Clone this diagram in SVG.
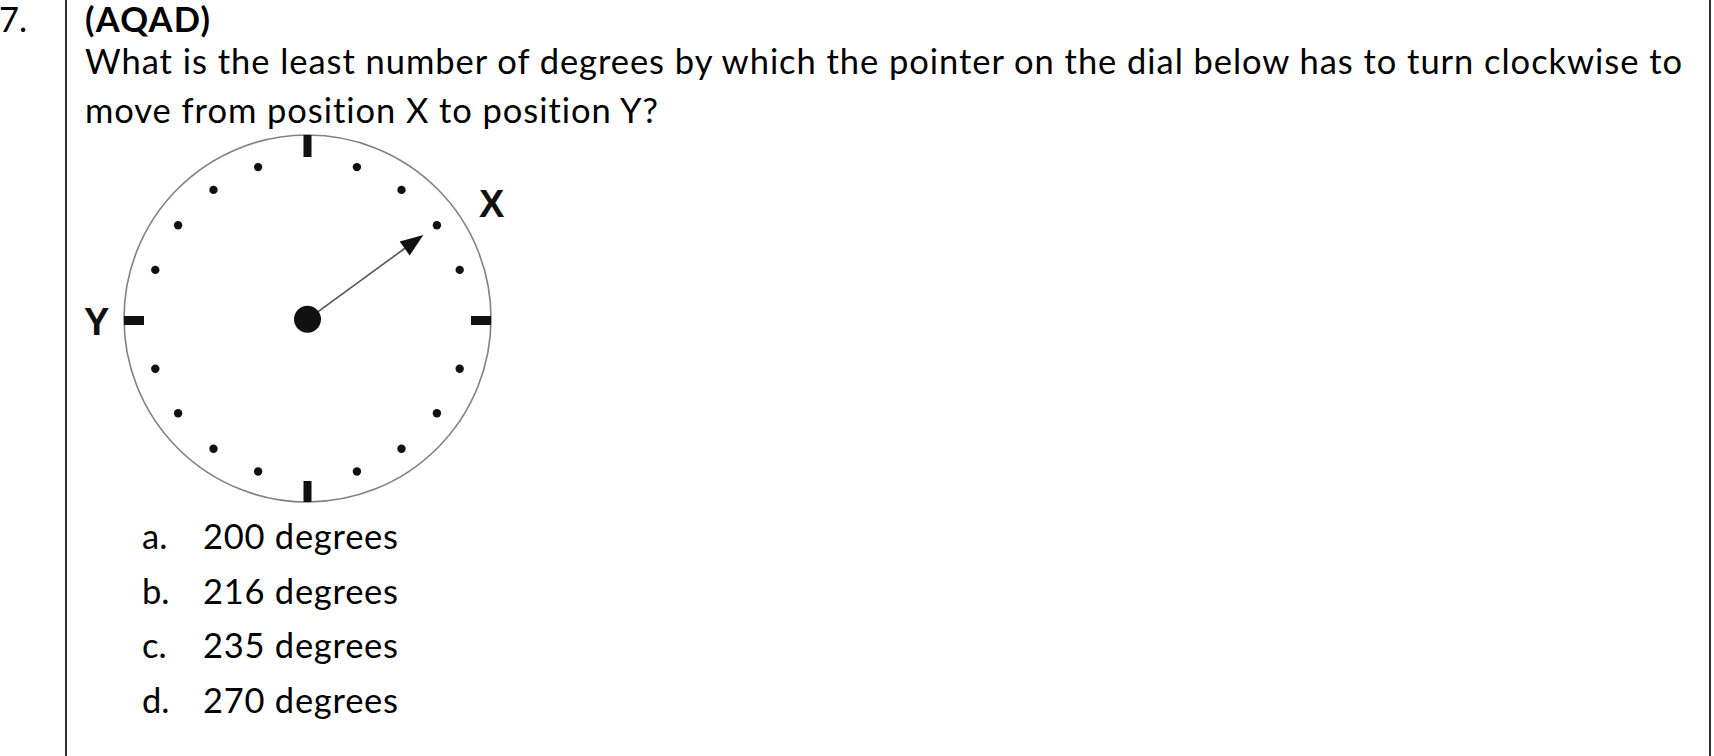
<svg xmlns="http://www.w3.org/2000/svg" width="1714" height="756" viewBox="0 0 1714 756">
<style>
.t{font-family:Lato,"Open Sans","Liberation Sans",sans-serif;font-size:34.5px;fill:#000;font-variant-ligatures:none}
.b{font-weight:bold}
.lab{font-family:"Liberation Sans",Arial,sans-serif;font-weight:bold;font-size:38px;fill:#111}
.dot{fill:#111}
.tick{fill:#111}
.border{stroke:#333;stroke-width:2;fill:none}
</style>
<rect width="1714" height="756" fill="#fff"/>
<g id="table">
<line class="border" x1="66" y1="0" x2="66" y2="756"/>
<line class="border" x1="1710" y1="0" x2="1710" y2="756"/>
</g>
<g id="question">
<text class="t" x="-1" y="32">7.</text>
<text class="t b" x="85" y="32" textLength="125">(AQAD)</text>
<text class="t" x="85" y="74" textLength="1597">What is the least number of degrees by which the pointer on the dial below has to turn clockwise to</text>
<text class="t" x="85" y="123" textLength="573">move from position X to position Y?</text>
</g>
<g id="dial">
<circle cx="307.5" cy="318.5" r="183.5" fill="#fff" stroke="#808080" stroke-width="1.6"/>
<rect class="tick" x="303.5" y="135" width="8" height="22"/>
<rect class="tick" x="303.5" y="481" width="8" height="21"/>
<rect class="tick" x="124" y="316" width="20" height="9"/>
<rect class="tick" x="471" y="316" width="20" height="9"/>
<g id="dots">
<circle class="dot" cx="356.9" cy="167.1" r="4.2"/>
<circle class="dot" cx="258.1" cy="167.1" r="4.2"/>
<circle class="dot" cx="401.5" cy="189.9" r="4.2"/>
<circle class="dot" cx="213.5" cy="189.9" r="4.2"/>
<circle class="dot" cx="436.9" cy="225.3" r="4.2"/>
<circle class="dot" cx="178.1" cy="225.3" r="4.2"/>
<circle class="dot" cx="459.7" cy="269.9" r="4.2"/>
<circle class="dot" cx="155.3" cy="269.9" r="4.2"/>
<circle class="dot" cx="356.9" cy="471.5" r="4.2"/>
<circle class="dot" cx="258.1" cy="471.5" r="4.2"/>
<circle class="dot" cx="401.5" cy="448.7" r="4.2"/>
<circle class="dot" cx="213.5" cy="448.7" r="4.2"/>
<circle class="dot" cx="436.9" cy="413.3" r="4.2"/>
<circle class="dot" cx="178.1" cy="413.3" r="4.2"/>
<circle class="dot" cx="459.7" cy="368.7" r="4.2"/>
<circle class="dot" cx="155.3" cy="368.7" r="4.2"/>
</g>
<g id="pointer">
<line x1="307.5" y1="319.3" x2="406" y2="247.5" stroke="#555" stroke-width="1.6"/>
<polygon points="423.3,235 409.7,255.4 399.7,241.6" fill="#111"/>
<circle cx="307.5" cy="319.3" r="13.5" fill="#111"/>
</g>
<text class="lab" x="479" y="217">X</text>
<text class="lab" x="84" y="335">Y</text>
</g>
<g id="options">
<text class="t" x="142" y="549">a.</text>
<text class="t" x="203" y="549" textLength="195">200 degrees</text>
<text class="t" x="142" y="604">b.</text>
<text class="t" x="203" y="604" textLength="195">216 degrees</text>
<text class="t" x="142" y="658">c.</text>
<text class="t" x="203" y="658" textLength="195">235 degrees</text>
<text class="t" x="142" y="713">d.</text>
<text class="t" x="203" y="713" textLength="195">270 degrees</text>
</g>
</svg>
